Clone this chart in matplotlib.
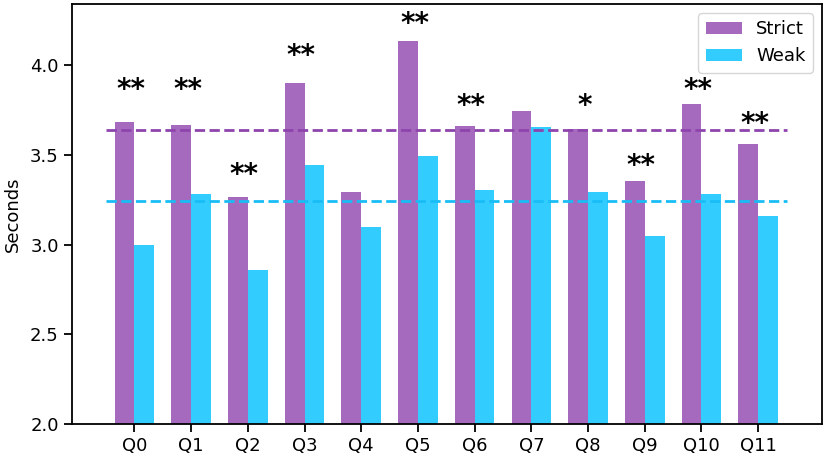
import numpy as np
from matplotlib import pyplot as plt

queries = ['Q0', 'Q1', 'Q2', 'Q3', 'Q4', 'Q5', 'Q6', 'Q7', 'Q8', 'Q9', 'Q10', 'Q11']
strict = [3.683, 3.667, 3.266, 3.900, 3.294, 4.134, 3.661, 3.744, 3.643, 3.355, 3.783, 3.561]
weak = [3.000, 3.283, 2.859, 3.444, 3.099, 3.494, 3.305, 3.655, 3.294, 3.049, 3.283, 3.161]
# significance marks and where they sit
stars = ['**', '**', '**', '**', '', '**', '**', '', '*', '**', '**', '**']
star_y = [3.86, 3.86, 3.39, 4.05, 0, 4.23, 3.77, 0, 3.77, 3.44, 3.86, 3.67]

x = np.arange(len(queries))
w = 0.35

fig = plt.figure(figsize=(8.25, 4.57), dpi=100)
ax = fig.add_axes([0.0873, 0.0716, 0.9087, 0.9196])

ax.bar(x - w/2, strict, w, color='#a569bd', label='Strict')
ax.bar(x + w/2, weak, w, color='#33ccff', label='Weak')
ax.hlines(np.mean(strict), -0.5, len(queries) - 0.5, colors='#8e44ad', linestyles='--', linewidth=2)
ax.hlines(np.mean(weak), -0.5, len(queries) - 0.5, colors='#19bdf5', linestyles='--', linewidth=2)

for i in range(len(queries)):
    if stars[i]:
        ax.text(x[i] - 0.06, star_y[i], stars[i], ha='center', va='center',
                fontsize=20, fontweight='bold')

ax.set_xticks(x)
ax.set_xticklabels(queries, fontsize=13)
ax.tick_params(axis='y', labelsize=13)
ax.tick_params(length=6, width=1.3)
ax.set_yticks([2.0, 2.5, 3.0, 3.5, 4.0])
ax.set_ylim(2.0, 4.34)
ax.set_xlim(-1.1, 12.12)
ax.set_ylabel('Seconds', fontsize=13, labelpad=6)
for s in ax.spines.values():
    s.set_linewidth(1.3)
ax.legend(loc='upper right', fontsize=13)

plt.savefig('out.png', dpi=100)
